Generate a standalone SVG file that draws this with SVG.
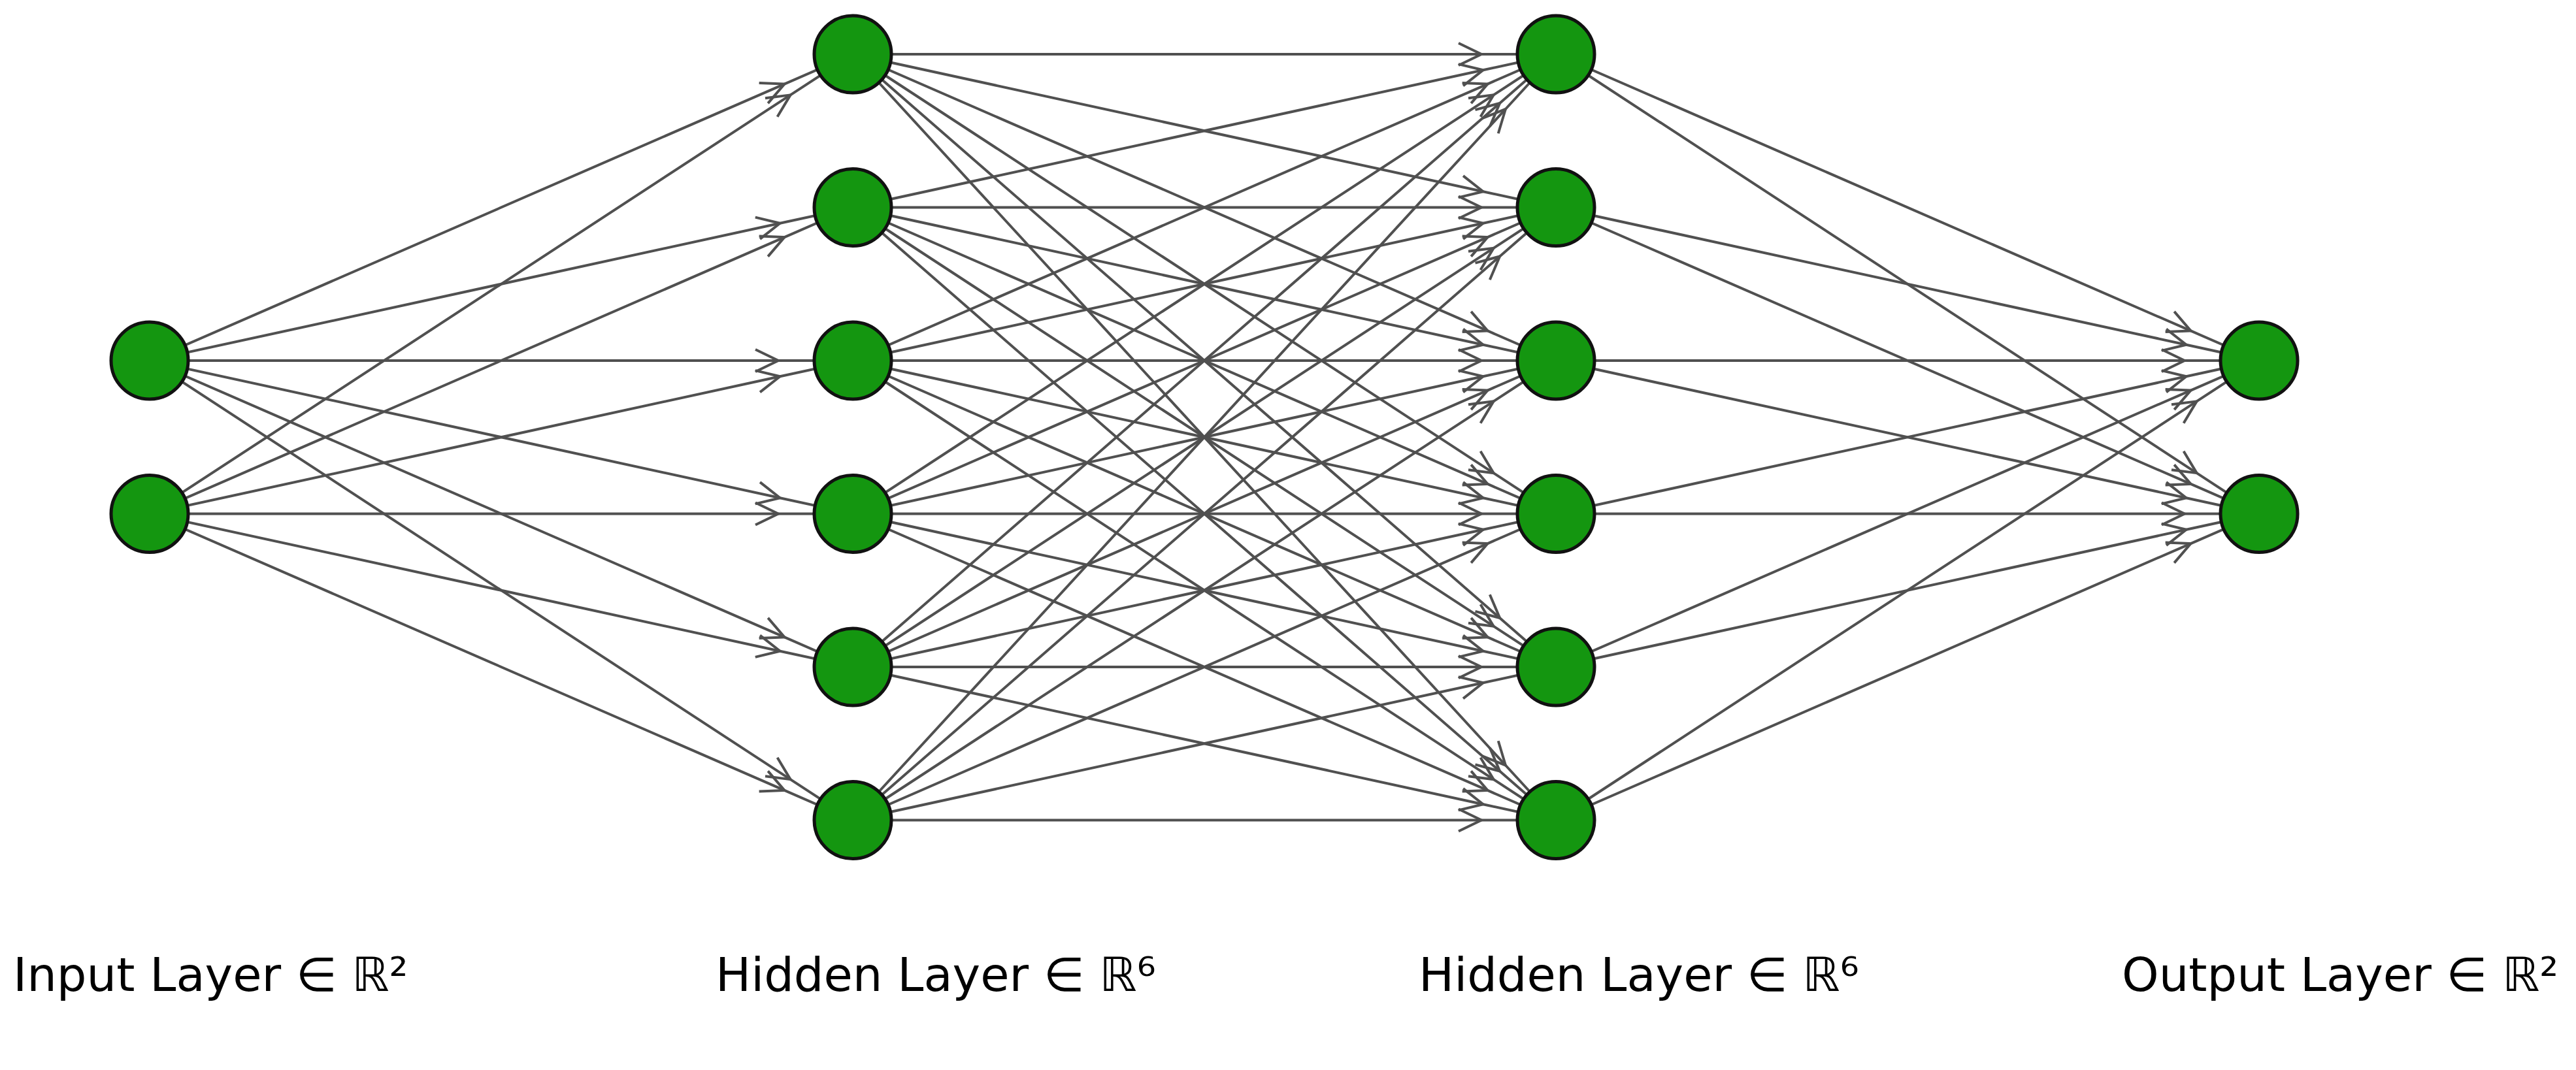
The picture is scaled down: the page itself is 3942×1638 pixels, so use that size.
<svg xmlns="http://www.w3.org/2000/svg" width="3942" height="1638" viewBox="0 0 3942 1638">
<style>
.e{fill:none;stroke:#505050;stroke-width:4;marker-mid:url(#a)}
.n{fill:#149610;stroke:#111111;stroke-width:5}
.t{font-family:"DejaVu Sans",sans-serif;font-size:72px;fill:#000000}
</style>
<defs>
<marker id="a" markerUnits="userSpaceOnUse" markerWidth="80" markerHeight="80" viewBox="-40 -40 80 80" refX="0" refY="0" orient="auto" overflow="visible">
<path d="M-35,-17 L0,0 L-35,17" fill="none" stroke="#505050" stroke-width="4"/>
</marker>
</defs>
<rect width="3942" height="1638" fill="#ffffff"/>
<g id="connectors">
<path class="e" d="M229,552 L1200.5,128.55 L1305,83"/>
<path class="e" d="M229,552 L1193.61,341.77 L1305,317.5"/>
<path class="e" d="M229,552 L1191,552 L1305,552"/>
<path class="e" d="M229,552 L1193.61,762.23 L1305,786.5"/>
<path class="e" d="M229,552 L1200.5,975.45 L1305,1021"/>
<path class="e" d="M229,552 L1209.58,1193.12 L1305,1255.5"/>
<path class="e" d="M229,786.5 L1209.58,145.38 L1305,83"/>
<path class="e" d="M229,786.5 L1200.5,363.05 L1305,317.5"/>
<path class="e" d="M229,786.5 L1193.61,576.27 L1305,552"/>
<path class="e" d="M229,786.5 L1191,786.5 L1305,786.5"/>
<path class="e" d="M229,786.5 L1193.61,996.73 L1305,1021"/>
<path class="e" d="M229,786.5 L1200.5,1209.95 L1305,1255.5"/>

<path class="e" d="M1305,83 L2267,83 L2381,83"/>
<path class="e" d="M1305,317.5 L2269.61,107.27 L2381,83"/>
<path class="e" d="M1305,552 L2276.5,128.55 L2381,83"/>
<path class="e" d="M1305,786.5 L2285.58,145.38 L2381,83"/>
<path class="e" d="M1305,1021 L2295.07,157.91 L2381,83"/>
<path class="e" d="M1305,1255.5 L2303.92,166.99 L2381,83"/>

<path class="e" d="M1305,83 L2269.61,293.23 L2381,317.5"/>
<path class="e" d="M1305,317.5 L2267,317.5 L2381,317.5"/>
<path class="e" d="M1305,552 L2269.61,341.77 L2381,317.5"/>
<path class="e" d="M1305,786.5 L2276.5,363.05 L2381,317.5"/>
<path class="e" d="M1305,1021 L2285.58,379.88 L2381,317.5"/>
<path class="e" d="M1305,1255.5 L2295.07,392.41 L2381,317.5"/>

<path class="e" d="M1305,83 L2276.5,506.45 L2381,552"/>
<path class="e" d="M1305,317.5 L2269.61,527.73 L2381,552"/>
<path class="e" d="M1305,552 L2267,552 L2381,552"/>
<path class="e" d="M1305,786.5 L2269.61,576.27 L2381,552"/>
<path class="e" d="M1305,1021 L2276.5,597.55 L2381,552"/>
<path class="e" d="M1305,1255.5 L2285.58,614.38 L2381,552"/>

<path class="e" d="M1305,83 L2285.58,724.12 L2381,786.5"/>
<path class="e" d="M1305,317.5 L2276.5,740.95 L2381,786.5"/>
<path class="e" d="M1305,552 L2269.61,762.23 L2381,786.5"/>
<path class="e" d="M1305,786.5 L2267,786.5 L2381,786.5"/>
<path class="e" d="M1305,1021 L2269.61,810.77 L2381,786.5"/>
<path class="e" d="M1305,1255.5 L2276.5,832.05 L2381,786.5"/>

<path class="e" d="M1305,83 L2295.07,946.09 L2381,1021"/>
<path class="e" d="M1305,317.5 L2285.58,958.62 L2381,1021"/>
<path class="e" d="M1305,552 L2276.5,975.45 L2381,1021"/>
<path class="e" d="M1305,786.5 L2269.61,996.73 L2381,1021"/>
<path class="e" d="M1305,1021 L2267,1021 L2381,1021"/>
<path class="e" d="M1305,1255.5 L2269.61,1045.27 L2381,1021"/>

<path class="e" d="M1305,83 L2303.92,1171.51 L2381,1255.5"/>
<path class="e" d="M1305,317.5 L2295.07,1180.59 L2381,1255.5"/>
<path class="e" d="M1305,552 L2285.58,1193.12 L2381,1255.5"/>
<path class="e" d="M1305,786.5 L2276.5,1209.95 L2381,1255.5"/>
<path class="e" d="M1305,1021 L2269.61,1231.23 L2381,1255.5"/>
<path class="e" d="M1305,1255.5 L2267,1255.5 L2381,1255.5"/>

<path class="e" d="M2381,83 L3352.5,506.45 L3457,552"/>
<path class="e" d="M2381,317.5 L3345.61,527.73 L3457,552"/>
<path class="e" d="M2381,552 L3343,552 L3457,552"/>
<path class="e" d="M2381,786.5 L3345.61,576.27 L3457,552"/>
<path class="e" d="M2381,1021 L3352.5,597.55 L3457,552"/>
<path class="e" d="M2381,1255.5 L3361.58,614.38 L3457,552"/>
<path class="e" d="M2381,83 L3361.58,724.12 L3457,786.5"/>
<path class="e" d="M2381,317.5 L3352.5,740.95 L3457,786.5"/>
<path class="e" d="M2381,552 L3345.61,762.23 L3457,786.5"/>
<path class="e" d="M2381,786.5 L3343,786.5 L3457,786.5"/>
<path class="e" d="M2381,1021 L3345.61,810.77 L3457,786.5"/>
<path class="e" d="M2381,1255.5 L3352.5,832.05 L3457,786.5"/>
</g>
<g id="input-layer">
<g id="in0"><circle class="n" cx="229" cy="552" r="59"/></g>
<g id="in1"><circle class="n" cx="229" cy="786.5" r="59"/></g>
</g>
<g id="hidden-layer-1">
<g id="h1_0"><circle class="n" cx="1305" cy="83" r="59"/></g>
<g id="h1_1"><circle class="n" cx="1305" cy="317.5" r="59"/></g>
<g id="h1_2"><circle class="n" cx="1305" cy="552" r="59"/></g>
<g id="h1_3"><circle class="n" cx="1305" cy="786.5" r="59"/></g>
<g id="h1_4"><circle class="n" cx="1305" cy="1021" r="59"/></g>
<g id="h1_5"><circle class="n" cx="1305" cy="1255.5" r="59"/></g>
</g>
<g id="hidden-layer-2">
<g id="h2_0"><circle class="n" cx="2381" cy="83" r="59"/></g>
<g id="h2_1"><circle class="n" cx="2381" cy="317.5" r="59"/></g>
<g id="h2_2"><circle class="n" cx="2381" cy="552" r="59"/></g>
<g id="h2_3"><circle class="n" cx="2381" cy="786.5" r="59"/></g>
<g id="h2_4"><circle class="n" cx="2381" cy="1021" r="59"/></g>
<g id="h2_5"><circle class="n" cx="2381" cy="1255.5" r="59"/></g>
</g>
<g id="output-layer">
<g id="out0"><circle class="n" cx="3457" cy="552" r="59"/></g>
<g id="out1"><circle class="n" cx="3457" cy="786.5" r="59"/></g>
</g>
<g id="labels">
<text class="t" x="20" y="1517">Input Layer ∈ ℝ²</text>
<text class="t" x="1095" y="1517">Hidden Layer ∈ ℝ⁶</text>
<text class="t" x="2171" y="1517">Hidden Layer ∈ ℝ⁶</text>
<text class="t" x="3247" y="1517">Output Layer ∈ ℝ²</text>
</g>
</svg>
